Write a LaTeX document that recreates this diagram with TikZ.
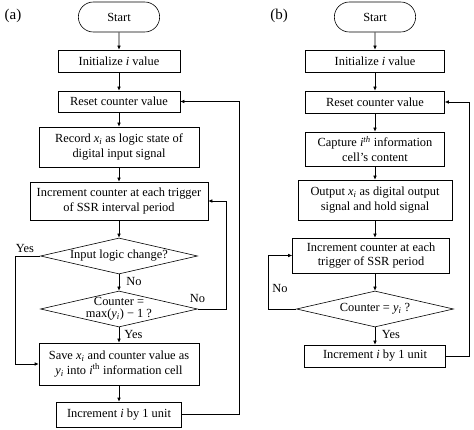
\documentclass[tikz,border=0pt]{standalone}
\usepackage{fontspec}
\setmainfont{Liberation Serif}
\usetikzlibrary{arrows.meta,shapes.geometric,shapes.misc}
\newcommand{\vi}{\textit{i}}
\newcommand{\xsub}{\textit{x}\textsubscript{\textit{i}}}
\newcommand{\ysub}{\textit{y}\textsubscript{\textit{i}}}
\newcommand{\dtext}[1]{\smash{\raisebox{-0.25em}{\renewcommand{\arraystretch}{0.87}\begin{tabular}{@{}c@{}}#1\end{tabular}}}}
\begin{document}
\begin{tikzpicture}[x=1pt,y=-1pt,font=\fontsize{12.4}{14.5}\selectfont,
	box/.style={draw,line width=0.6pt,align=center,inner sep=1pt},
	term/.style={draw,line width=0.6pt,rounded rectangle,minimum width=88pt,minimum height=30pt},
	dec/.style={draw,line width=0.6pt,diamond,aspect=4.4,minimum width=157pt,minimum height=36pt,inner sep=0pt},
	arr/.style={line width=0.6pt,-{Latex[length=4pt,width=3.5pt]}}]
			\useasboundingbox (0,0) rectangle (474,430);
			% (a)
			\node (labA) at (13,16) {\fontsize{15}{18}\selectfont (a)};
			\node [term] (startA) at (119,17) {Start};
			\node [box,minimum width=122pt,minimum height=22pt] (initA) at (119,61) {Initialize \vi{} value};
			\node [box,minimum width=122pt,minimum height=21pt] (resetA) at (119,101.5) {Reset counter value};
			\node [box,minimum width=160pt,minimum height=40pt] (recA) at (119,147) {Record \xsub{} as logic state of\\digital input signal};
			\node [box,minimum width=178pt,minimum height=38pt] (incA) at (119,201) {Increment counter at each trigger\\of SSR interval period};
			\node [dec] (dA1) at (119,256) {\dtext{Input logic change?}};
			\node [dec] (dA2) at (119,309) {\dtext{Counter =\\max(\ysub) − 1 ?}};
			\node [box,minimum width=160pt,minimum height=42pt] (saveA) at (119,364) {Save \xsub{} and counter value as\\\ysub{} into \vi\textsuperscript{th} information cell};
			\node [box,minimum width=125pt,minimum height=25pt] (inciA) at (119,414.5) {Increment \vi{} by 1 unit};
			\draw [arr] (startA) to (initA);
			\draw [arr] (initA) to (resetA);
			\draw [arr] (resetA) to (recA);
			\draw [arr] (recA) to (incA);
			\draw [arr] (incA) to (dA1);
			\draw [arr] (dA1) to (dA2);
			\draw [arr] (dA2) to (saveA);
			\draw [arr] (saveA) to (inciA);
			\draw [arr] (dA1.west) -- ++(-24.5,0) |- (saveA.west);
			\draw [arr] (dA2.east) -- ++(28.5,0) |- (incA.east);
			\draw [arr] (inciA.east) -- ++(57.5,0) |- (resetA.east);
			\node (yesA1) at (25,249) {Yes};
			\node (noA1) at (134,282) {No};
			\node (noA2) at (197.5,299) {No};
			\node (yesA2) at (133.5,335) {Yes};
			% (b)
			\node (labB) at (279,16) {\fontsize{15}{18}\selectfont (b)};
			\node [term] (startB) at (375,17) {Start};
			\node [box,minimum width=139pt,minimum height=22pt] (initB) at (375,61) {Initialize \vi{} value};
			\node [box,minimum width=139pt,minimum height=22pt] (resetB) at (375,102) {Reset counter value};
			\node [box,minimum width=139pt,minimum height=34pt] (capB) at (375,149) {Capture \vi\textsuperscript{\textit{th}} information\\cell’s content};
			\node [box,minimum width=154pt,minimum height=40pt] (outB) at (375,200) {Output \xsub{} as digital output\\signal and hold signal};
			\node [box,minimum width=157pt,minimum height=35pt] (incB) at (371,255.5) {Increment counter at each\\trigger of SSR period};
			\node [dec] (dB) at (375,309) {\dtext{Counter = \ysub{} ?}};
			\node [box,minimum width=141pt,minimum height=22pt] (inciB) at (375,356) {Increment \vi{} by 1 unit};
			\draw [arr] (startB) to (initB);
			\draw [arr] (initB) to (resetB);
			\draw [arr] (resetB) to (capB);
			\draw [arr] (capB) to (outB);
			\draw [arr] (outB.south) to (outB.south |- incB.north);
			\draw [arr] (dB.north |- incB.south) to (dB.north);
			\draw [arr] (dB) to (inciB);
			\draw [arr] (dB.west) -- ++(-27.5,0) |- (incB.west);
			\draw [arr] (inciB.east) -- ++(23.5,0) |- (resetB.east);
			\node (noB) at (280,289) {No};
			\node (yesB) at (391,335) {Yes};
\end{tikzpicture}
\end{document}
